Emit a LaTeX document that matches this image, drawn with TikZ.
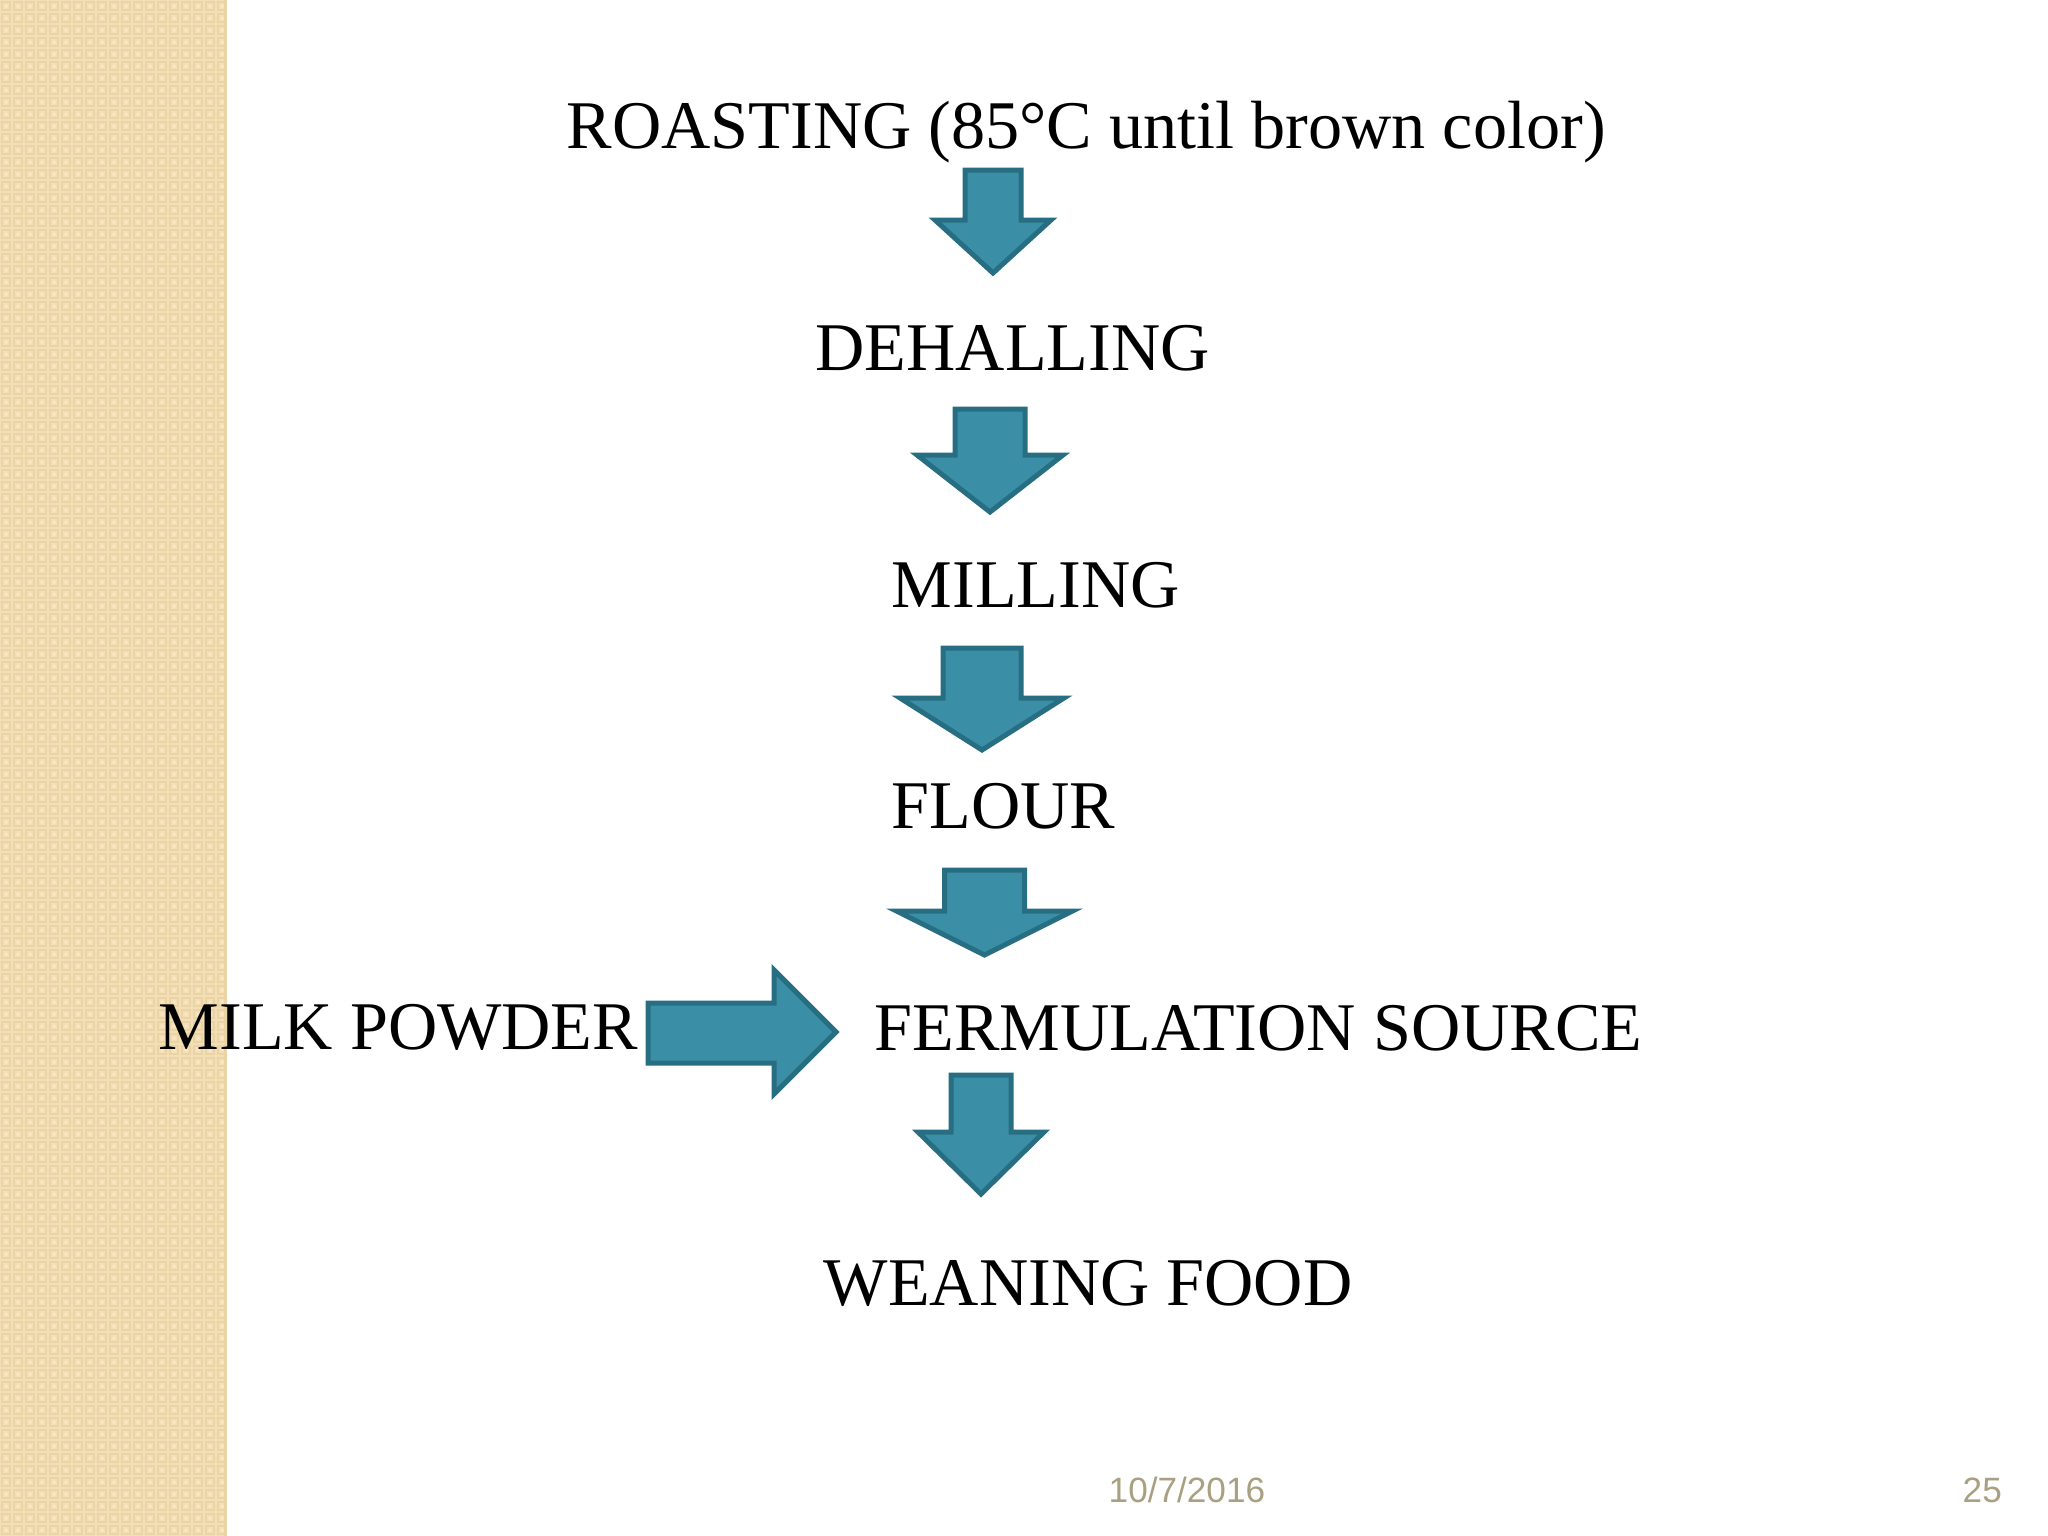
\documentclass[tikz,border=0pt]{standalone}
\usepackage{fontspec}
\setmainfont{Liberation Serif}
\newfontfamily\footfont{Liberation Sans}
\definecolor{stripbase}{HTML}{F3DEB5}
\definecolor{stripline}{HTML}{EAD3A4}
\definecolor{stripdot}{HTML}{F8E8C8}
\definecolor{arrowfill}{HTML}{3A8FA6}
\definecolor{arrowline}{HTML}{286E82}
\definecolor{footgray}{HTML}{A8A080}
\newcommand{\downblock}[6]{\draw[blockarrow] (#1-#3,#2) -- (#1+#3,#2) -- (#1+#3,#4) -- (#1+#5,#4) -- (#1,#6) -- (#1-#5,#4) -- (#1-#3,#4) -- cycle;}

\begin{document}
\begin{tikzpicture}[x=0.01cm,y=-0.01cm,
	steptext/.style={anchor=base west,inner sep=0pt,font=\fontsize{19.4}{24}\selectfont},
	foottext/.style={anchor=base west,inner sep=0pt,text=footgray,font=\footfont\fontsize{10}{12}\selectfont},
	blockarrow/.style={fill=arrowfill,draw=arrowline,line width=0.05cm,line join=miter}]
	\useasboundingbox (0,0) rectangle (2048,1536);
	\fill[white] (0,0) rectangle (2048,1536);
	\fill[stripbase] (0,0) rectangle (225,1536);
	\draw[stripline,line width=0.02cm] foreach \i in {0,...,18} {foreach \j in {0,...,127} {(\i*12+2,\j*12+2) rectangle ++(8,8)}};
	\fill[stripdot] foreach \i in {0,...,18} {foreach \j in {0,...,127} {(\i*12+4.5,\j*12+4.5) rectangle ++(3,3)}};
	\draw[stripline,line width=0.03cm] (225,0) -- (225,1536);

	\node[steptext] (roast) at (566,148) {ROASTING (85°C until brown color)};
	\node[steptext] (dehall) at (815,370) {DEHALLING};
	\node[steptext] (mill) at (891,607) {MILLING};
	\node[steptext] (flour) at (891,828) {FLOUR};
	\node[steptext] (milk) at (158,1049) {MILK POWDER};
	\node[steptext] (ferm) at (874,1050) {FERMULATION SOURCE};
	\node[steptext] (wean) at (823,1305) {WEANING FOOD};

	\downblock{993}{170}{28}{220}{58}{273}
	\downblock{990}{409}{35}{455}{73}{512}
	\downblock{982}{648}{39}{698}{82}{750}
	\downblock{984.5}{870}{40}{911}{88}{955}
	\downblock{981}{1075}{30}{1132}{63}{1194}
	\draw[blockarrow] (648,1003) -- (774,1003) -- (774,970) -- (836,1032) -- (774,1094) -- (774,1063) -- (648,1063) -- cycle;

	\node[foottext] (date) at (1108,1502) {10/7/2016};
	\node[foottext] (page) at (1962,1502) {25};
\end{tikzpicture}
\end{document}
